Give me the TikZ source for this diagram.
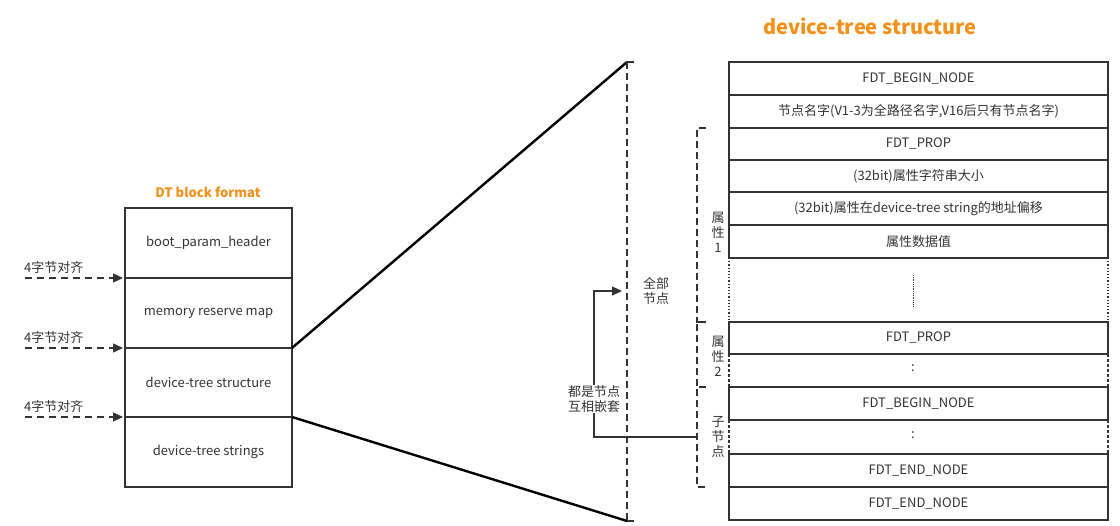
\documentclass[tikz,border=0pt]{standalone}
\usepackage{fontspec}
\setmainfont{Noto Sans CJK SC}
\usetikzlibrary{arrows.meta}
\definecolor{ink}{HTML}{333333}
\definecolor{org}{HTML}{F39019}
\begin{document}
\begin{tikzpicture}[x=1pt,y=-1pt,
  txt/.style={font=\fontsize{13}{15}\selectfont,text=ink},
  box/.style={draw=ink,line width=1.3pt},
  arr/.style={-{Triangle[length=10pt,width=9pt]},draw=ink,line width=1.4pt},
  brk/.style={draw=ink,line width=1.3pt,dash pattern=on 7pt off 4pt}]
\useasboundingbox (0,0) rectangle (1120,526);
% titles
\node[font=\bfseries\fontsize{20}{23}\selectfont,text=org] (t1) at (870,26) {device-tree structure};
\node[font=\bfseries\fontsize{13}{15}\selectfont,text=org] (t2) at (208,192) {DT block format};
% left block
\foreach \a/\b/\n/\t in {208/278/b1/boot\_param\_header,278/348/b2/memory reserve map,348/417/b3/device-tree structure,417/487/b4/device-tree strings}{
  \draw[box] (125,\a) rectangle (292,\b);
  \node[txt] (\n) at (208.5,{(\a+\b)/2}) {\t};
}
\foreach \y/\n in {278/c1,348/c2,417/c3}{
  \coordinate (\n s) at (25,\y); \coordinate (\n e) at (123,\y);
  \draw[arr,dash pattern=on 7pt off 5pt] (\n s) -- (\n e);
  \node[txt,anchor=south west,inner sep=1pt] at (23,\y-3) {4字节对齐};
}
% zoom lines
\coordinate (zt) at (627,62); \coordinate (zb) at (627,521);
\coordinate (l1) at (292,348); \coordinate (l2) at (292,417);
\draw[line width=2.4pt] (l1) -- (zt);
\draw[line width=2.4pt] (l2) -- (zb);
\draw[brk] (zt) -- (zb);
\draw[ink,line width=1.3pt] (627,62) -- (634,62) (627,521) -- (634,521);
\node[txt,align=center] (all) at (656,291) {全部\\节点};
% right column
\foreach \a/\b/\t in {62/95/FDT\_BEGIN\_NODE,95/128/节点名字(V1-3为全路径名字{,}V16后只有节点名字),128/160/FDT\_PROP,160/192/(32bit)属性字符串大小,192/225/(32bit)属性在device-tree string的地址偏移,225/258/属性数据值,322/354/FDT\_PROP,387/420/FDT\_BEGIN\_NODE,454/487/FDT\_END\_NODE,487/520/FDT\_END\_NODE}{
  \draw[box] (729,\a) rectangle (1108,\b);
  \node[txt] at (918.5,{(\a+\b)/2}) {\t};
}
\draw[ink,line width=1.2pt,dotted] (729,258) -- (729,322) (1108,258) -- (1108,322);
\draw[ink,line width=0.8pt,densely dotted] (913,275) -- (913,307);
\foreach \a/\b in {354/387,420/454}{
  \draw[ink,line width=1.2pt,dash pattern=on 3pt off 2pt] (729,\a) -- (729,\b) (1108,\a) -- (1108,\b);
  \node[txt] at (913,{(\a+\b)/2-2}) {:};
}
% brackets
\foreach \a/\b in {128/322,322/387,387/487}{
  \draw[brk] (706,\a) -- (697,\a) -- (697,\b) -- (706,\b);
}
\node[txt,align=center] (p1) at (718,232) {属\\性\\1};
\node[txt,align=center] (p2) at (718,356) {属\\性\\2};
\node[txt,align=center] (p3) at (718,437) {子\\节\\点};
% loop
\coordinate (lp) at (697,437); \coordinate (la) at (622,291);
\draw[arr,line width=1.2pt] (lp) -- (594,437) -- (594,291) -- (la);
\node[txt,align=center,fill=white,inner sep=1pt] (nest) at (594,399) {都是节点\\互相嵌套};
\end{tikzpicture}
\end{document}
